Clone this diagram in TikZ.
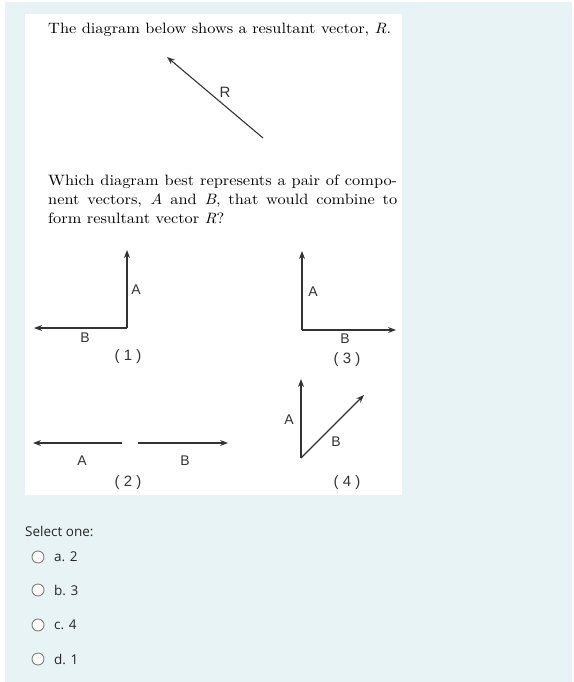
\documentclass[tikz,border=0pt]{standalone}
\usepackage{fontspec}
\newfontfamily\lab{Liberation Sans}
\newfontfamily\ui{Open Sans}
\newfontfamily\qfont{lmroman10-regular.otf}[ItalicFont=lmroman10-italic.otf, FakeStretch=1.09]
\usetikzlibrary{arrows.meta}
\definecolor{pagebg}{HTML}{E7F3F5}
\definecolor{ink}{HTML}{333333}
\tikzset{
  vec/.style={draw=ink, line width=1.1pt, -{Stealth[length=8pt,width=6pt]}},
  lbl/.style={font=\lab\fontsize{14}{16}\selectfont, text=ink, inner sep=0pt},
  num/.style={font=\lab\fontsize{15}{17}\selectfont, text=ink, inner sep=0pt},
  serif/.style={font=\qfont\fontsize{15}{19}\selectfont, inner sep=0pt, anchor=base west},
  opt/.style={font=\ui\fontsize{13.5}{16}\selectfont, text=black!85, inner sep=0pt, anchor=west},
  radio/.style={draw=black!50, line width=0.9pt, fill=white, circle, minimum size=12pt, inner sep=0pt}
}
\begin{document}
\begin{tikzpicture}[x=1pt,y=-1pt]
\useasboundingbox (0,0) rectangle (573,682);
\fill[white] (0,0) rectangle (573,682);
\fill[pagebg] (5,2) rectangle (572,682);
\fill[white] (25,14) rectangle (402,495);

% header text
\node[serif] (t1) at (48,34) {The diagram below shows a resultant vector, \textit{R}.};

% resultant vector
\coordinate (rtail) at (263,138);
\coordinate (rtip) at (167,57);
\draw[vec] (rtail) -- (rtip);
\node[lbl, font=\lab\fontsize{15}{17}\selectfont] (rl) at (225,92) {R};

% question text
\node[serif] (q1) at (48,185) {\makebox[349pt][s]{Which diagram best represents a pair of compo-}};
\node[serif] (q2) at (48,204) {\makebox[349pt][s]{nent vectors, \textit{A} and \textit{B}, that would combine to}};
\node[serif] (q3) at (48,223) {form resultant vector \textit{R}?};

% diagram 1
\coordinate (c1) at (127,328);
\coordinate (a1) at (127,250);
\coordinate (b1) at (34,328);
\draw[vec] (c1) -- (a1);
\draw[vec] (c1) -- (b1);
\node[lbl] (la1) at (136,290) {A};
\node[lbl] (lb1) at (85,338) {B};
\node[num] (n1) at (128,357) {( 1 )};

% diagram 3
\coordinate (c3) at (302,330);
\coordinate (a3) at (302,251);
\coordinate (b3) at (396,330);
\draw[vec] (c3) -- (a3);
\draw[vec] (c3) -- (b3);
\node[lbl] (la3) at (313,292) {A};
\node[lbl] (lb3) at (345,339) {B};
\node[num] (n3) at (347,360) {( 3 )};

% diagram 2
\coordinate (s2a) at (122,443);
\coordinate (a2) at (33,443);
\coordinate (s2b) at (138,443);
\coordinate (b2) at (228,443);
\draw[vec] (s2a) -- (a2);
\draw[vec] (s2b) -- (b2);
\node[lbl] (la2) at (82,461) {A};
\node[lbl] (lb2) at (185,461) {B};
\node[num] (n2) at (128,483) {( 2 )};

% diagram 4
\coordinate (c4) at (301,458);
\coordinate (a4) at (301,379);
\coordinate (b4) at (364,395);
\draw[vec] (c4) -- (a4);
\draw[vec] (c4) -- (b4);
\node[lbl] (la4) at (289,420) {A};
\node[lbl] (lb4) at (336,442) {B};
\node[num] (n4) at (347,483) {( 4 )};

% answer options
\node[opt] (sel) at (25,531) {Select one:};
\node[radio] (r1) at (38,557) {};
\node[opt] (o1) at (54,557) {a. 2};
\node[radio] (r2) at (38,590) {};
\node[opt] (o2) at (54,590) {b. 3};
\node[radio] (r3) at (38,625) {};
\node[opt] (o3) at (54,625) {c. 4};
\node[radio] (r4) at (38,659) {};
\node[opt] (o4) at (54,659) {d. 1};
\end{tikzpicture}
\end{document}
